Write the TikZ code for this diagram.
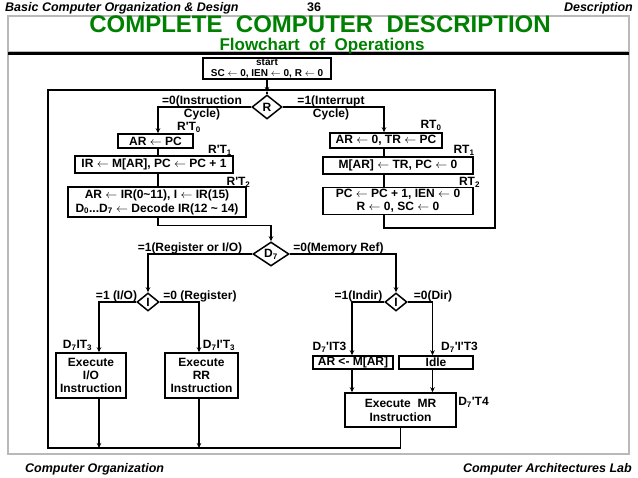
\documentclass[tikz,border=0pt]{standalone}
\usepackage{fontspec}
\setmainfont{Liberation Sans}
\usetikzlibrary{arrows.meta,shapes.geometric}
\definecolor{ttlgreen}{RGB}{0,128,0}
\definecolor{framegray}{RGB}{185,185,185}
\newcommand\la{\ensuremath{\leftarrow}}
\newcommand\pr{\textquotesingle}
\newcommand\sbs[1]{\textsubscript{#1}}
\begin{document}
\begin{tikzpicture}[x=1pt,y=-1pt,
  every node/.style={font=\bfseries\fontsize{12}{13.5}\selectfont, inner sep=0pt},
  box/.style={draw, line width=1.5pt, align=center},
  dia/.style={draw, diamond, line width=1.5pt, aspect=1.3},
  lbl/.style={anchor=base},
  ln/.style={line width=1.5pt},
  arr/.style={ln, -{Stealth[length=5pt,width=4.5pt]}},
  hdr/.style={font=\bfseries\itshape\fontsize{12.5}{14}\selectfont},
  ttl/.style={text=ttlgreen}]
\useasboundingbox (0,0) rectangle (638,478);
% frame
\coordinate (fTL) at (8,16);
\coordinate (fBR) at (629,454);
\draw[framegray, line width=1.5pt] (fTL) rectangle (fBR);
\draw[framegray, line width=1.2pt] (8,51.2) -- (629,51.2);
\draw[black, line width=2.4pt] (8,53.6) -- (629,53.6);
% header / footer
\node[hdr, anchor=base west] (hl) at (5,12) {Basic Computer Organization \& Design};
\node[font=\bfseries\fontsize{12.5}{14}\selectfont, anchor=base] (hn) at (314,12) {36};
\node[hdr, anchor=base east] (hr) at (633,12) {Description};
\node[hdr, anchor=base west] (fl) at (25,473) {Computer Organization};
\node[hdr, anchor=base east] (fr) at (632,473) {Computer Architectures Lab};
% title
\node[ttl, font=\bfseries\fontsize{24}{28}\selectfont, anchor=base] (title) at (320,33) {COMPLETE\ \ COMPUTER\ \ DESCRIPTION};
\node[ttl, font=\bfseries\fontsize{17}{20}\selectfont, anchor=base] (subtitle) at (322,50.5) {Flowchart\ \ of\ \ Operations};
% start and R
\node[box, minimum width=128pt, minimum height=21pt, font=\bfseries\fontsize{10}{11}\selectfont] (start) at (267,68.5) {start\\SC \la{} 0, IEN \la{} 0, R \la{} 0};
\node[dia, minimum width=30pt, minimum height=24pt] (R) at (267,107) {R};
% instruction cycle
\node[box, minimum width=75pt, minimum height=14pt] (lb0) at (155.5,141) {AR \la{} PC};
\node[box, minimum width=158pt, minimum height=17pt] (lb1) at (154,164.5) {IR \la{} M[AR], PC \la{} PC + 1};
\node[box, minimum width=178pt, minimum height=30pt, font=\bfseries\fontsize{12}{14}\selectfont] (lb2) at (157,202) {AR \la{} IR(0\textasciitilde11), I \la{} IR(15)\\D\sbs{0}...D\sbs{7} \la{} Decode IR(12 \textasciitilde{} 14)};
% interrupt cycle
\node[box, minimum width=112pt, minimum height=15pt] (rb0) at (386,140.5) {AR \la{} 0, TR \la{} PC};
\node[box, minimum width=150pt, minimum height=17pt] (rb1) at (398,165.5) {M[AR] \la{} TR, PC \la{} 0};
\node[box, minimum width=150pt, minimum height=27pt, font=\bfseries\fontsize{12}{13}\selectfont] (rb2) at (398,201) {PC \la{} PC + 1, IEN \la{} 0\\R \la{} 0, SC \la{} 0};
% decisions
\node[dia, minimum width=36pt, minimum height=24pt] (D7) at (271,254) {D\sbs{7}};
\node[dia, minimum width=22pt, minimum height=18pt] (IL) at (148,302) {I};
\node[dia, minimum width=22pt, minimum height=18pt] (IR) at (396,302) {I};
% bottom boxes
\node[box, minimum width=70pt, minimum height=45pt, font=\bfseries\fontsize{12}{13}\selectfont] (bio) at (91,375.5) {Execute\\I/O\\Instruction};
\node[box, minimum width=73pt, minimum height=45pt, font=\bfseries\fontsize{12}{13}\selectfont] (brr) at (201.5,375.5) {Execute\\RR\\Instruction};
\node[box, minimum width=80pt, minimum height=13pt] (bar) at (353,362.5) {AR <- M[AR]};
\node[box, minimum width=74pt, minimum height=13pt] (bidle) at (436,362.5) {Idle};
\node[box, minimum width=111pt, minimum height=34pt, font=\bfseries\fontsize{12}{14}\selectfont] (bmr) at (400.5,410) {Execute\ \ MR\\Instruction};
% labels
\node[align=center] (lInstr) at (202,108) {=0(Instruction\\Cycle)};
\node[align=center] (lIntr) at (331,108) {=1(Interrupt\\Cycle)};
\node[lbl] (t0) at (189,131) {R\pr T\sbs{0}};
\node[lbl] (t1) at (220,154) {R\pr T\sbs{1}};
\node[lbl] (t2) at (238.5,185.5) {R\pr T\sbs{2}};
\node[lbl] (rt0) at (431,129) {RT\sbs{0}};
\node[lbl] (rt1) at (464,154) {RT\sbs{1}};
\node[lbl] (rt2) at (469.5,185.5) {RT\sbs{2}};
\node[lbl] (lReg) at (190,251.5) {=1(Register or I/O)};
\node[lbl] (lMem) at (338.5,251.5) {=0(Memory Ref)};
\node[lbl] (lIO) at (116.5,300) {=1 (I/O)};
\node[lbl] (lRR) at (200,300) {=0 (Register)};
\node[lbl] (lInd) at (358.5,300) {=1(Indir)};
\node[lbl] (lDir) at (433,300) {=0(Dir)};
\node[lbl] (c1) at (77.5,349) {D\sbs{7}IT\sbs{3}};
\node[lbl] (c2) at (219,349) {D\sbs{7}I\pr T\sbs{3}};
\node[lbl] (c3) at (329.5,350.5) {D\sbs{7}\pr IT3};
\node[lbl] (c4) at (459.5,350.5) {D\sbs{7}\pr I\pr T3};
\node[lbl] (c5) at (473.5,406) {D\sbs{7}\pr T4};
% helper coordinates
\coordinate (j) at (267,92);
\coordinate (xl) at (158,0);
\coordinate (xr) at (384,0);
\coordinate (x1) at (99,0);
\coordinate (x2) at (199,0);
\coordinate (x3) at (352,0);
\coordinate (x4) at (432.5,0);
\coordinate (lpTL) at (48,90);
\coordinate (lpTR) at (495,90);
\coordinate (lpBL) at (48,448);
\coordinate (lpR) at (495,228);
% connectors
\draw[arr] (start.south) -- (j);
\draw[ln] (j) -- (R.north);
\draw[ln] (bmr.south) |- (lpBL) -- (lpTL) -- (lpTR) -- (lpR) -| (rb2.south -| xr);
\draw[arr] (R.west) -| (lb0.north -| xl);
\draw[ln] (lb0.south -| xl) -- (lb1.north -| xl);
\draw[ln] (lb1.south -| xl) -- (lb2.north -| xl);
\draw[arr] (lb2.south -| xl) -- ++(0,8) -| (D7.north);
\draw[arr] (R.east) -| (rb0.north -| xr);
\draw[ln] (rb0.south -| xr) -- (rb1.north -| xr);
\draw[ln] (rb1.south -| xr) -- (rb2.north -| xr);
\draw[arr] (D7.west) -| (IL.north);
\draw[arr] (D7.east) -| (IR.north);
\draw[arr] (IL.west) -| (bio.north -| x1);
\draw[arr] (IL.east) -| (brr.north -| x2);
\draw[arr] (IR.west) -| (bar.north -| x3);
\draw[arr] (IR.east) -| (bidle.north -| x4);
\draw[arr] (bar.south -| x3) -- (bmr.north -| x3);
\draw[arr] (bidle.south -| x4) -- (bmr.north -| x4);
\draw[arr] (bio.south -| x1) -- (lpBL -| x1);
\draw[arr] (brr.south -| x2) -- (lpBL -| x2);
\end{tikzpicture}
\end{document}
